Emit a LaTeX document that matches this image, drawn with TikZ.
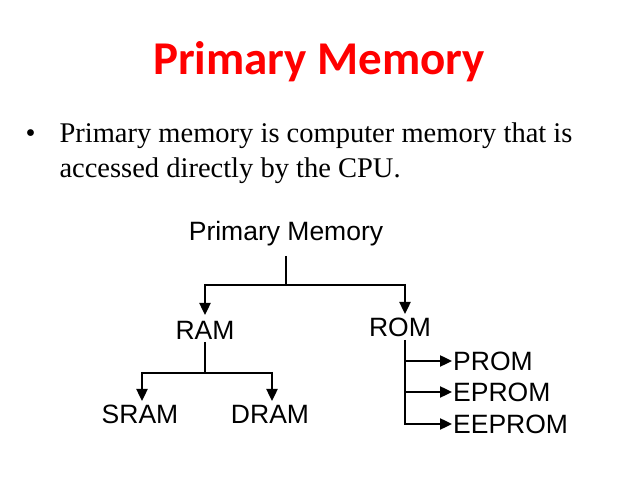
\documentclass[tikz,border=0pt]{standalone}
\usepackage{fontspec}
\setmainfont{Liberation Serif}
\newfontfamily\titlef{Carlito}
\newfontfamily\diagf{Liberation Sans}
\usetikzlibrary{arrows.meta}
\begin{document}
\begin{tikzpicture}[x=1pt,y=-1pt,
  lbl/.style={font=\diagf\fontsize{26.5}{29}\selectfont,inner sep=1pt},
  ln/.style={line width=2.4pt},
  ar/.style={line width=2.4pt,-{Triangle[length=12pt,width=11pt]}}]
\useasboundingbox (0,0) rectangle (638,478);
\node (title) at (319,62) {\titlef\bfseries\color{red}\fontsize{47}{50}\selectfont Primary Memory};
\node[anchor=base west] (bul) at (22,143) {\fontsize{28.5}{32}\selectfont\textbullet};
\node[anchor=base west] (txt) at (56,143) {\fontsize{28.5}{32}\selectfont Primary memory is computer memory that is};
\node[anchor=base west] (txt2) at (56,178) {\fontsize{28.5}{32}\selectfont accessed directly by the CPU.};
\node[lbl] (pm) at (286,234) {Primary Memory};
\node[lbl] (ram) at (205,330) {RAM};
\node[lbl] (rom) at (400,327) {ROM};
\node[lbl] (sram) at (140,414) {SRAM};
\node[lbl] (dram) at (270,414) {DRAM};
\node[lbl,anchor=west] (prom) at (452,361) {PROM};
\node[lbl,anchor=west] (eprom) at (452,392) {EPROM};
\node[lbl,anchor=west] (eeprom) at (452,424) {EEPROM};
\coordinate (j1) at (286,285);
\coordinate (j2) at (205,373);
\draw[ln] (286,256) -- (j1);
\draw[ln] (205,285) -- (405,285);
\draw[ar] (205,284) -- (205,315);
\draw[ar] (405,284) -- (405,314);
\draw[ln] (205,342) -- (j2);
\draw[ln] (142,373) -- (272,373);
\draw[ar] (142,372) -- (142,401);
\draw[ar] (272,372) -- (272,401);
\draw[ln] (405,340) -- (405,425);
\draw[ar] (404,361) -- (prom.west);
\draw[ar] (404,392) -- (eprom.west);
\draw[ar] (404,424) -- (eeprom.west);
\end{tikzpicture}
\end{document}
